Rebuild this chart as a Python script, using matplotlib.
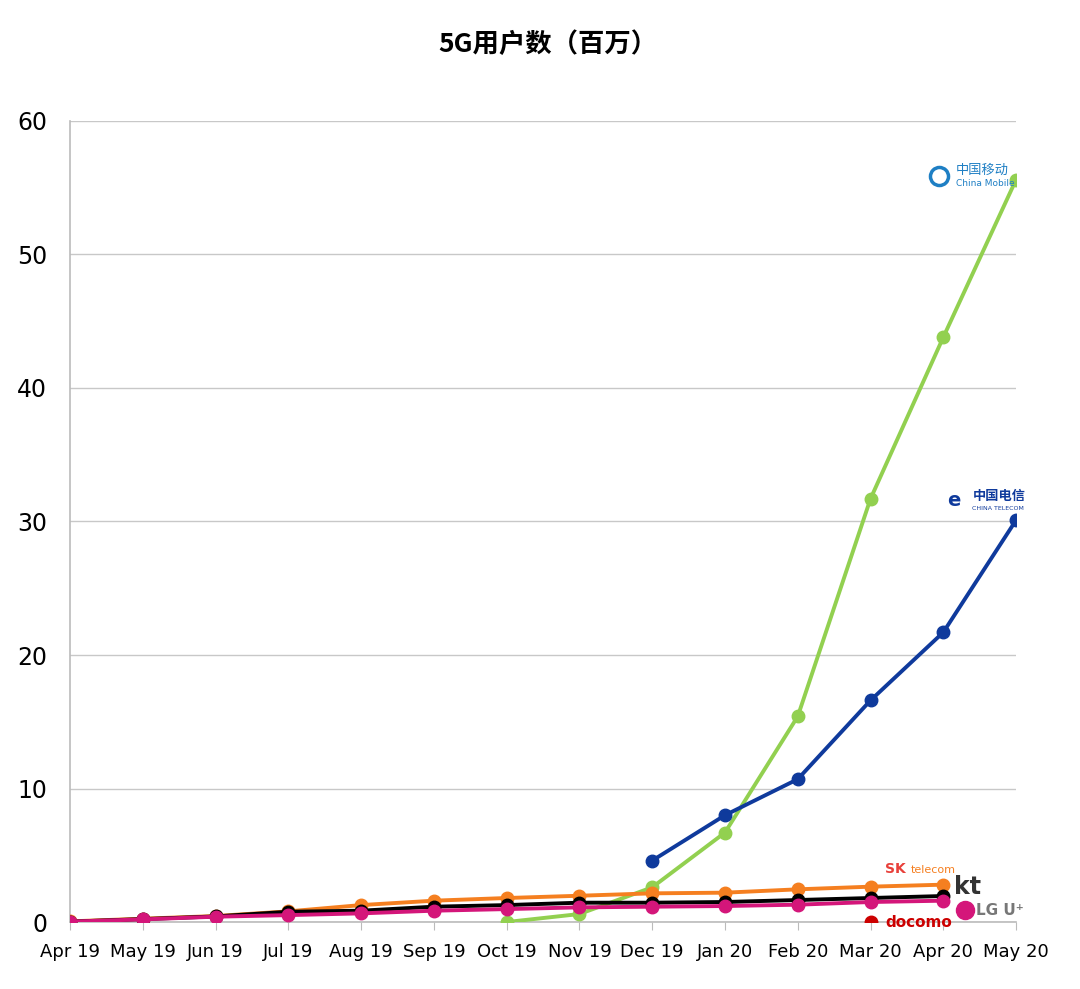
import matplotlib.pyplot as plt
import numpy as np

plt.rcParams['font.family'] = ['DejaVu Sans', 'Noto Sans CJK SC']

months = ['Apr 19', 'May 19', 'Jun 19', 'Jul 19', 'Aug 19', 'Sep 19', 'Oct 19',
          'Nov 19', 'Dec 19', 'Jan 20', 'Feb 20', 'Mar 20', 'Apr 20', 'May 20']

nan = np.nan
china_mobile = [nan, nan, nan, nan, nan, nan, 0.0, 0.6, 2.6, 6.7, 15.4, 31.7, 43.8, 55.6]
china_telecom = [nan, nan, nan, nan, nan, nan, nan, nan, 4.6, 8.0, 10.7, 16.6, 21.7, 30.1]
sk_telecom = [0.05, 0.25, 0.45, 0.8, 1.27, 1.6, 1.8, 1.97, 2.15, 2.2, 2.45, 2.65, 2.8, nan]
kt = [0.03, 0.22, 0.42, 0.77, 0.85, 1.15, 1.27, 1.45, 1.45, 1.5, 1.65, 1.8, 1.95, nan]
lg_uplus = [0.03, 0.2, 0.4, 0.52, 0.65, 0.85, 0.97, 1.1, 1.15, 1.2, 1.3, 1.5, 1.6, nan]
docomo = [nan, nan, nan, nan, nan, nan, nan, nan, nan, nan, nan, 0.0, nan, nan]

x = np.arange(len(months))

fig = plt.figure(figsize=(10.8, 9.89), dpi=100)
ax = fig.add_axes([0.0648, 0.0677, 0.876, 0.81])

series = [
    (china_mobile, '#92D050'),
    (china_telecom, '#0F3A9C'),
    (sk_telecom, '#F57F20'),
    (kt, '#000000'),
    (lg_uplus, '#D4167A'),
    (docomo, '#CC0000'),
]
for vals, col in series:
    ax.plot(x, vals, color=col, lw=2.8, marker='o', ms=9, zorder=3,
            solid_capstyle='round')

ax.set_xlim(0, 13)
ax.set_ylim(0, 60)
ax.set_yticks(range(0, 61, 10))
ax.set_xticks(x)
ax.set_xticklabels(months, fontsize=13)
ax.tick_params(axis='y', length=0, pad=16.5, labelsize=17)
ax.tick_params(axis='x', length=6, color='#BBBBBB', pad=9)
ax.yaxis.grid(True, color='#C8C8C8', lw=1)
ax.set_axisbelow(True)
for s in ['top', 'right']:
    ax.spines[s].set_visible(False)
for s in ['left', 'bottom']:
    ax.spines[s].set_color('#BBBBBB')
    ax.spines[s].set_linewidth(1.2)

cjk = ['Noto Sans CJK SC', 'DejaVu Sans']

fig.text(0.507, 0.955, '5G用户数（百万）', ha='center', va='center',
         fontsize=19, fontweight='bold', family=cjk)

# operator labels standing in for logos
ax.text(12.17, 56.3, '中国移动', color='#1E7FC4', fontsize=9.5, family=cjk,
        ha='left', va='center')
ax.text(12.17, 55.3, 'China Mobile', color='#1E7FC4', fontsize=6.5,
        ha='left', va='center')
ax.plot([11.94], [55.9], marker='o', ms=13, mfc='none', mec='#1E7FC4', mew=2.5,
        clip_on=False)

ax.text(12.4, 31.9, '中国电信', color='#0F3A9C', fontsize=9.5, family=cjk,
        fontweight='bold', ha='left', va='center')
ax.text(12.4, 31.0, 'CHINA TELECOM', color='#0F3A9C', fontsize=4.5,
        ha='left', va='center')
ax.text(12.15, 31.6, 'e', color='#0F3A9C', fontsize=14, fontweight='bold',
        ha='center', va='center')

ax.text(11.2, 4.0, 'SK', color='#E8403A', fontsize=10, fontweight='bold',
        ha='left', va='center')
ax.text(11.55, 3.9, 'telecom', color='#F57F20', fontsize=8,
        ha='left', va='center')
ax.text(12.15, 2.6, 'kt', color='#333333', fontsize=17, fontweight='bold',
        ha='left', va='center')
ax.plot([12.3], [0.9], marker='o', ms=13, color='#D4167A', clip_on=False)
ax.text(12.45, 0.9, 'LG U⁺', color='#777777', fontsize=11, fontweight='bold',
        ha='left', va='center')
ax.text(11.2, 0.0, 'docomo', color='#CC0000', fontsize=11, fontweight='bold',
        ha='left', va='center')

fig.savefig('out.png', dpi=100)
